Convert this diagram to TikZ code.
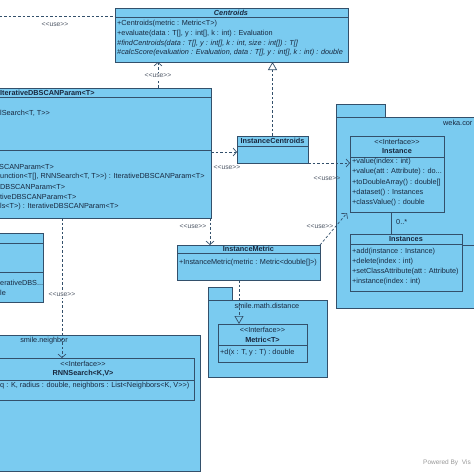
\documentclass[tikz,border=0pt]{standalone}
\usepackage{fontspec}
\setmainfont{Liberation Sans}
\usetikzlibrary{arrows.meta}
\definecolor{fillc}{HTML}{7ACBF0}
\definecolor{linec}{HTML}{33506B}
\definecolor{txtc}{HTML}{18283F}
\definecolor{lblc}{HTML}{4F5866}
\newcommand\dlt{<\kern0pt<}
\newcommand\dgt{>\kern0pt>}
\newcommand\usestereo{\dlt use\dgt}
\newcommand\ifacestereo{\dlt Interface\dgt}
\begin{document}
\begin{tikzpicture}[x=1pt,y=-1pt,
  font=\fontsize{7.3}{8.5}\selectfont, text=txtc,
  cls/.style={draw=linec, fill=fillc, line width=0.7pt, inner sep=0pt, outer sep=0pt, anchor=north west},
  sepl/.style={draw=linec, line width=0.7pt},
  row/.style={anchor=west, inner sep=0pt},
  hdr/.style={anchor=center, inner sep=0pt, font=\fontsize{7.3}{8.5}\selectfont\bfseries},
  lbl/.style={inner sep=0.6pt, text=lblc, font=\fontsize{6.8}{8}\selectfont},
  dep/.style={draw=linec, line width=0.7pt, dash pattern=on 2.6pt off 2pt},
  usearrow/.style={dep, -{Straight Barb[length=3.5pt,width=8pt,line width=0.7pt]}},
  realize/.style={dep, -{Triangle[open,length=8pt,width=9pt,line width=0.7pt]}},
  assoc/.style={draw=linec, line width=0.7pt}
]
\useasboundingbox (0,0) rectangle (474,474);
\fill[white] (0,0) rectangle (474,474);
\clip (0,0) rectangle (474,474);

% ---------- packages ----------
\node[cls, minimum width=49pt, minimum height=13pt] (wekatab) at (336,104) {};
\node[cls, minimum width=150pt, minimum height=191pt] (weka) at (336,117) {};
\node[row] (wekalbl) at (443,123) {weka.cor};

\node[cls, minimum width=24pt, minimum height=13pt] (smdtab) at (208,287) {};
\node[cls, minimum width=119pt, minimum height=77pt] (smd) at (208,300) {};
\node[anchor=center, inner sep=0pt] (smdlbl) at (267,306) {smile.math.distance};

\node[cls, minimum width=210pt, minimum height=136pt] (snb) at (-10,335) {};
\node[anchor=center, inner sep=0pt] (snblbl) at (44,341) {smile.neighbor};

% ---------- Centroids ----------
\node[cls, minimum width=233pt, minimum height=54pt] (cent) at (115,8) {};
\draw[sepl] (115,17) -- (348,17);
\node[hdr, font=\fontsize{7.3}{8.5}\selectfont\bfseries\itshape] (centh) at (231,12.5) {Centroids};
\node[row] (c1) at (117,23.5) {+Centroids(metric : Metric<T>)};
\node[row] (c2) at (117,33.5) {+evaluate(data : T[], y : int[], k : int) : Evaluation};
\node[row, font=\fontsize{7.3}{8.5}\selectfont\itshape] (c3) at (117,43.5) {\#findCentroids(data : T[], y : int[], k : int, size : int[]) : T[]};
\node[row, font=\fontsize{7.3}{8.5}\selectfont\itshape] (c4) at (117,53) {\#calcScore(evaluation : Evaluation, data : T[], y : int[], k : int) : double};

% ---------- IterativeDBSCANParam ----------
\node[cls, minimum width=241pt, minimum height=130pt] (iter) at (-30,88) {};
\draw[sepl] (-30,97) -- (211,97);
\draw[sepl] (-30,150) -- (211,150);
\node[row, font=\fontsize{7.3}{8.5}\selectfont\bfseries] (iterh) at (0,92.5) {IterativeDBSCANParam<T>};
\node[row] (ia1) at (0,113) {lSearch<T, T\dgt};
\node[row] (im1) at (-1,167) {SCANParam<T>};
\node[row] (im2) at (0,177) {unction<T[], RNNSearch<T, T\dgt) : IterativeDBSCANParam<T>};
\node[row] (im3) at (0,187) {DBSCANParam<T>};
\node[row] (im4) at (0,197) {tiveDBSCANParam<T>};
\node[row] (im5) at (0,207) {ls<T>) : IterativeDBSCANParam<T>};

% ---------- left class ----------
\node[cls, minimum width=73pt, minimum height=69pt] (lft) at (-30,233) {};
\draw[sepl] (-30,243) -- (43,243);
\draw[sepl] (-30,272) -- (43,272);
\node[row] (l1) at (0,283) {erativeDBS...};
\node[row] (l2) at (0,293) {le};

% ---------- InstanceCentroids ----------
\node[cls, minimum width=71pt, minimum height=27pt] (icent) at (237,136) {};
\draw[sepl] (237,146) -- (308,146);
\node[hdr] (icenth) at (272.5,141) {InstanceCentroids};

% ---------- Instance ----------
\node[cls, minimum width=94pt, minimum height=76pt] (inst) at (350,136) {};
\draw[sepl] (350,157) -- (444,157);
\node[anchor=center, inner sep=0pt] (insts1) at (397,141.5) {\ifacestereo};
\node[hdr] (insth) at (397,151.5) {Instance};
\node[row] (n1) at (352,162) {+value(index : int)};
\node[row] (n2) at (352,172) {+value(att : Attribute) : do...};
\node[row] (n3) at (352,182.5) {+toDoubleArray() : double[]};
\node[row] (n4) at (352,193) {+dataset() : Instances};
\node[row] (n5) at (352,203) {+classValue() : double};

% ---------- Instances ----------
\node[cls, minimum width=112pt, minimum height=57pt] (insts) at (350,234) {};
\draw[sepl] (350,244) -- (462,244);
\node[hdr] (instsh) at (406,239) {Instances};
\node[row] (s1) at (352,252) {+add(instance : Instance)};
\node[row] (s2) at (352,262) {+delete(index : int)};
\node[row] (s3) at (352,272) {+setClassAttribute(att : Attribute)};
\node[row] (s4) at (352,282) {+instance(index : int)};

% ---------- InstanceMetric ----------
\node[cls, minimum width=143pt, minimum height=35pt] (imet) at (177,245) {};
\draw[sepl] (177,253.5) -- (320,253.5);
\node[hdr] (imeth) at (248.5,249) {InstanceMetric};
\node[row] (mm1) at (179,262.5) {+InstanceMetric(metric : Metric<double[]>)};

% ---------- Metric ----------
\node[cls, minimum width=89pt, minimum height=38pt] (metric) at (218,324) {};
\draw[sepl] (218,345) -- (307,345);
\node[anchor=center, inner sep=0pt] (mets) at (262.5,329.5) {\ifacestereo};
\node[hdr] (meth) at (262.5,339.5) {Metric<T>};
\node[row] (mt1) at (220,352.5) {+d(x : T, y : T) : double};

% ---------- RNNSearch ----------
\node[cls, minimum width=222pt, minimum height=42pt] (rnn) at (-28,358) {};
\draw[sepl] (-28,380) -- (194,380);
\node[anchor=center, inner sep=0pt] (rnns) at (83,364) {\ifacestereo};
\node[hdr] (rnnh) at (83,373.5) {RNNSearch<K,V>};
\node[row] (r1) at (0,386) {q : K, radius : double, neighbors : List<Neighbors<K, V\dgt)};

% ---------- connectors ----------
\coordinate (lfree) at (-5,16);
\draw[dep] (lfree) -- (lfree -| cent.west);
\draw[usearrow] ([xshift=188pt]iter.north west) -- ([xshift=43pt]cent.south west);
\draw[realize] (icent.north) -- (icent.north |- cent.south);
\draw[usearrow] ([yshift=-2.5pt]icent.west -| iter.east) -- ([yshift=-2.5pt]icent.west);
\draw[usearrow] (icent.south east) -- (icent.south east -| inst.west);
\draw[usearrow] ([xshift=-1pt]iter.south east) -- ([xshift=-1pt]iter.south east |- imet.north);
\draw[usearrow] (imet.north east) -- ([xshift=-3pt,yshift=-1pt]inst.south west);
\draw[realize] ([xshift=62pt]imet.south west) -- ([xshift=62pt]imet.south west |- metric.north);
\draw[usearrow] ([xshift=92pt]iter.south west) -- ([xshift=92pt]iter.south west |- rnn.north);
\draw[assoc] ([xshift=41pt]inst.south west) -- ([xshift=41pt]inst.south west |- insts.north);
\coordinate (rfree) at (480,245);
\draw[assoc] (rfree -| insts.east) -- (rfree);

% ---------- labels ----------
\node[lbl] (u1) at (55,25) {\usestereo};
\node[lbl, fill=white] (u2) at (158,76) {\usestereo};
\node[lbl] (u3) at (227,168) {\usestereo};
\node[lbl] (u4) at (327,179) {\usestereo};
\node[lbl] (u5) at (193,227) {\usestereo};
\node[lbl] (u6) at (320,227) {\usestereo};
\node[lbl, fill=white] (u7) at (62,295) {\usestereo};
\node[row] (mult) at (396,222) {0..*};
\node[row, text=gray!80, font=\fontsize{6.5}{8}\selectfont] (pwr) at (423,463) {Powered By \ Vis};
\end{tikzpicture}
\end{document}
